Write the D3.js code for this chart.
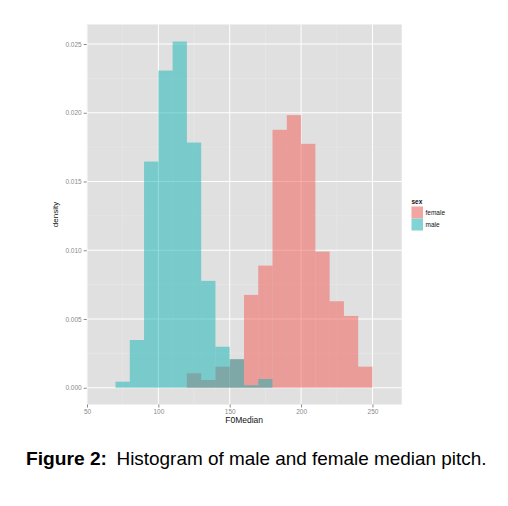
<!DOCTYPE html>
<html>
<head>
<meta charset="utf-8">
<script src="https://cdn.jsdelivr.net/npm/d3@7"></script>
<style>
  body { margin: 0; background: #fff; }
  text { font-family: "Liberation Sans", Arial, sans-serif; }
</style>
</head>
<body>
<svg id="chart" width="508" height="506"></svg>
<script>
// Histogram data, binwidth 10 (bin start -> density)
var maleBins     = [70, 80, 90, 100, 110, 120, 130, 140, 150, 160, 170];
var maleDensity  = [0.00044, 0.00347, 0.01645, 0.02307, 0.02518, 0.01783, 0.00777, 0.00298, 0.00207, 0.00018, 0.00063];
var femaleBins    = [120, 130, 140, 150, 160, 170, 180, 190, 200, 210, 220, 230, 240];
var femaleDensity = [0.00105, 0.00056, 0.00153, 0.00207, 0.00675, 0.00888, 0.01876, 0.01983, 0.01774, 0.0099, 0.00629, 0.00522, 0.00153];
var binWidth = 10;

var xTicks = [50, 100, 150, 200, 250];
var xMinor = [75, 125, 175, 225];
var yTicks = [0, 0.005, 0.010, 0.015, 0.020, 0.025];
var yMinor = [0.0025, 0.0075, 0.0125, 0.0175, 0.0225];

var sexes  = ["female", "male"];
var colors = { female: "#F45850", male: "#10B4B6" };

var svg = d3.select("#chart");

var panel = { left: 86.7, right: 401.7, top: 24.5, bottom: 404.5 };

var x = d3.scaleLinear().domain([49.8, 270.5]).range([panel.left, panel.right]);
var y = d3.scaleLinear().domain([-0.00122, 0.02642]).range([panel.bottom, panel.top]);

// panel background
svg.append("rect")
  .attr("x", panel.left).attr("y", panel.top)
  .attr("width", panel.right - panel.left)
  .attr("height", panel.bottom - panel.top)
  .attr("fill", "#E0E0E0");

// grid lines
var grid = svg.append("g");
xMinor.forEach(function (v) {
  grid.append("line").attr("x1", x(v)).attr("x2", x(v))
    .attr("y1", panel.top).attr("y2", panel.bottom)
    .attr("stroke", "#EAEAEA").attr("stroke-width", 0.5);
});
yMinor.forEach(function (v) {
  grid.append("line").attr("y1", y(v)).attr("y2", y(v))
    .attr("x1", panel.left).attr("x2", panel.right)
    .attr("stroke", "#EAEAEA").attr("stroke-width", 0.5);
});
xTicks.forEach(function (v) {
  grid.append("line").attr("x1", x(v)).attr("x2", x(v))
    .attr("y1", panel.top).attr("y2", panel.bottom)
    .attr("stroke", "#FFFFFF").attr("stroke-width", 1);
});
yTicks.forEach(function (v) {
  grid.append("line").attr("y1", y(v)).attr("y2", y(v))
    .attr("x1", panel.left).attr("x2", panel.right)
    .attr("stroke", "#FFFFFF").attr("stroke-width", 1);
});

// bars: female first, male drawn on top, both half transparent
function drawBars(bins, dens, col) {
  svg.append("g").selectAll("rect")
    .data(bins)
    .join("rect")
    .attr("x", function (d) { return x(d); })
    .attr("width", function (d) { return x(d + binWidth) - x(d); })
    .attr("y", function (d, i) { return y(dens[i]); })
    .attr("height", function (d, i) { return y(0) - y(dens[i]); })
    .attr("fill", col)
    .attr("fill-opacity", 0.5);
}
drawBars(femaleBins, femaleDensity, colors.female);
drawBars(maleBins, maleDensity, colors.male);

// axes
var xAxis = d3.axisBottom(x).tickValues(xTicks).tickSize(3).tickPadding(2)
  .tickFormat(d3.format("d"));
var gx = svg.append("g").attr("transform", "translate(0," + panel.bottom + ")").call(xAxis);
gx.select(".domain").remove();
gx.selectAll("line").attr("stroke", "#888");
gx.selectAll("text").attr("fill", "#8a8a8a").attr("font-size", 6.5)
  .style("font-family", "Liberation Sans, Arial, sans-serif");

var yAxis = d3.axisLeft(y).tickValues(yTicks).tickSize(3).tickPadding(2)
  .tickFormat(d3.format(".3f"));
var gy = svg.append("g").attr("transform", "translate(" + panel.left + ",0)").call(yAxis);
gy.select(".domain").remove();
gy.selectAll("line").attr("stroke", "#888");
gy.selectAll("text").attr("fill", "#8a8a8a").attr("font-size", 6.5)
  .style("font-family", "Liberation Sans, Arial, sans-serif");

// axis titles
svg.append("text")
  .attr("x", (panel.left + panel.right) / 2).attr("y", 423)
  .attr("text-anchor", "middle").attr("font-size", 8.5).attr("fill", "#111")
  .text("F0Median");

svg.append("text")
  .attr("transform", "translate(58," + ((panel.top + panel.bottom) / 2) + ") rotate(-90)")
  .attr("text-anchor", "middle").attr("font-size", 8).attr("fill", "#111")
  .text("density");

// legend
var legend = svg.append("g").attr("transform", "translate(411.5,198)");
legend.append("text").attr("x", 0).attr("y", 6)
  .attr("font-size", 6.5).attr("font-weight", "bold").attr("fill", "#111")
  .text("sex");
sexes.forEach(function (s, i) {
  var yy = 8.5 + i * 12;
  legend.append("rect").attr("x", 0).attr("y", yy).attr("width", 11.5).attr("height", 12)
    .attr("fill", "#F2F2F2");
  legend.append("rect").attr("x", 0).attr("y", yy).attr("width", 11.5).attr("height", 12)
    .attr("fill", colors[s]).attr("fill-opacity", 0.5);
  legend.append("text").attr("x", 14).attr("y", yy + 8.2)
    .attr("font-size", 6.5).attr("fill", "#111")
    .text(s);
});

// figure caption
svg.append("text")
  .attr("x", 26).attr("y", 465)
  .attr("font-size", 18.5).attr("font-weight", "bold").attr("fill", "#000")
  .attr("textLength", 81).attr("lengthAdjust", "spacingAndGlyphs")
  .text("Figure 2:");
svg.append("text")
  .attr("x", 116.5).attr("y", 465)
  .attr("font-size", 18.5).attr("fill", "#000")
  .attr("textLength", 370).attr("lengthAdjust", "spacingAndGlyphs")
  .text("Histogram of male and female median pitch.");
</script>
</body>
</html>
